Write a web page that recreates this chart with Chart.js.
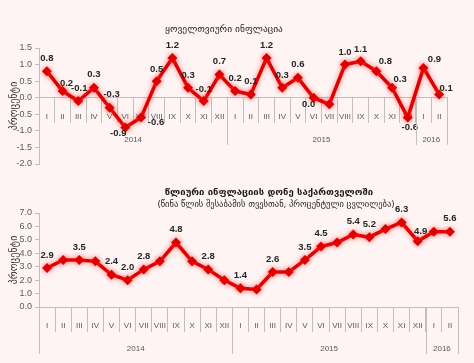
<!DOCTYPE html>
<html>
<head>
<meta charset="utf-8">
<script src="https://cdn.jsdelivr.net/npm/chart.js@4"></script>
<style>
  body { margin: 0; background: #fdf4f3; }
  .box { position: absolute; left: 0; width: 474px; }
</style>
</head>
<body>
<div class="box" style="top:0;height:182px"><canvas id="monthlyChart"></canvas></div>
<div class="box" style="top:182px;height:181px"><canvas id="annualChart"></canvas></div>
<script>
// data
const months = ["I", "II", "III", "IV", "V", "VI", "VII", "VIII", "IX", "X", "XI", "XII",
  "I", "II", "III", "IV", "V", "VI", "VII", "VIII", "IX", "X", "XI", "XII", "I", "II"];
const years = ["2014", "2015", "2016"];
const monthsPerYear = [12, 12, 2];
const monthlyInflation = [0.8, 0.2, -0.1, 0.3, -0.3, -0.9, -0.6, 0.5, 1.2, 0.3, -0.1, 0.7,
  0.2, 0.1, 1.2, 0.3, 0.6, 0.0, -0.2, 1.0, 1.1, 0.8, 0.3, -0.6, 0.9, 0.1];
const annualInflation = [2.9, 3.5, 3.5, 3.4, 2.4, 2.0, 2.8, 3.4, 4.8, 3.4, 2.8, 2.0,
  1.4, 1.3, 2.6, 2.6, 3.5, 4.5, 4.8, 5.4, 5.2, 5.8, 6.3, 4.9, 5.6, 5.6];
const monthlyTitle = "ყოველთვიური ინფლაცია";
const annualTitle = "წლიური ინფლაციის დონე საქართველოში";
const annualSubtitle = "(წინა წლის შესაბამის თვესთან, პროცენტული ცვლილება)";
const yTitle = "პროცენტი";

const RED = "rgb(222,0,0)";
const GRID = "#bfbfbf";
const TICK = "#595959";
const GEO = "'DejaVu Sans'";
const NUM = "'Liberation Sans'";

// glow round the line and markers
const glow = {
  id: "glow",
  beforeDatasetsDraw(chart) {
    const ctx = chart.ctx;
    ctx.save();
    ctx.shadowColor = "rgba(255,70,70,0.7)";
    ctx.shadowBlur = 5;
  },
  afterDatasetsDraw(chart) {
    chart.ctx.restore();
  },
};

// value labels next to points, offsets per point (null = no label)
const valueLabels = {
  id: "valueLabels",
  afterDatasetsDraw(chart, args, opts) {
    const ctx = chart.ctx;
    const meta = chart.getDatasetMeta(0);
    const data = chart.data.datasets[0].data;
    ctx.save();
    ctx.font = "bold 9.5px " + NUM;
    ctx.fillStyle = "#262626";
    ctx.textAlign = "center";
    ctx.textBaseline = "middle";
    meta.data.forEach((pt, i) => {
      const off = opts.offsets[i];
      if (!off) return;
      ctx.fillText(data[i].toFixed(1), pt.x + off[0], pt.y + off[1]);
    });
    ctx.restore();
  },
};

// second row of the category axis: years with long separators
const yearRow = {
  id: "yearRow",
  afterDraw(chart) {
    const ctx = chart.ctx;
    const x = chart.scales.x;
    const zero = chart.scales.y.getPixelForValue(chart.scales.y.min < 0 ? 0 : chart.scales.y.min);
    const half = (x.getPixelForValue(1) - x.getPixelForValue(0)) / 2;
    ctx.save();
    ctx.strokeStyle = GRID;
    ctx.lineWidth = 1;
    ctx.fillStyle = TICK;
    ctx.font = "8px " + NUM;
    ctx.textAlign = "center";
    ctx.textBaseline = "middle";
    let start = 0;
    years.forEach((yr, k) => {
      const end = start + monthsPerYear[k] - 1;
      const left = x.getPixelForValue(start) - half;
      const right = x.getPixelForValue(end) + half;
      [left, right].forEach((px) => {
        const p = Math.round(px) + 0.5;
        ctx.beginPath();
        ctx.moveTo(p, zero);
        ctx.lineTo(p, zero + 47);
        ctx.stroke();
      });
      ctx.fillText(yr, (left + right) / 2, zero + 42);
      start = end + 1;
    });
    ctx.restore();
  },
};

const titles = {
  id: "titles",
  afterDraw(chart, args, opts) {
    const ctx = chart.ctx;
    ctx.save();
    ctx.fillStyle = "#1a1a1a";
    ctx.textAlign = "center";
    ctx.textBaseline = "middle";
    opts.lines.forEach((l) => {
      ctx.font = l.font;
      ctx.fillText(l.text, l.x, l.y);
    });
    ctx.restore();
  },
};

const lineDataset = (values) => ({
  data: values,
  borderColor: RED,
  backgroundColor: RED,
  borderWidth: 3.5,
  pointStyle: "rectRot",
  pointRadius: 5,
  pointBorderWidth: 0,
  tension: 0,
});

const yScale = (min, max, step) => ({
  min: min,
  max: max,
  afterFit: (s) => { s.width = 39; },
  ticks: {
    stepSize: step,
    autoSkip: false,
    color: TICK,
    font: { family: NUM, size: 9 },
    padding: 3,
    callback: (v) => v.toFixed(1),
  },
  grid: { drawOnChartArea: false, tickLength: 4, color: GRID },
  border: { color: GRID },
  title: {
    display: true,
    text: yTitle,
    color: "#333",
    font: { family: GEO, size: 10 },
    padding: { top: 8, bottom: 0 },
  },
});

const xScale = (position) => ({
  type: "category",
  position: position,
  offset: true,
  afterFit: (s) => { if (position === "bottom") s.height = 56; },
  ticks: {
    color: TICK,
    font: { family: NUM, size: 8 },
    padding: -11,
    maxRotation: 0,
    autoSkip: false,
  },
  grid: { offset: true, drawOnChartArea: false, tickLength: 25, color: GRID },
  border: { color: GRID },
});

new Chart(document.getElementById("monthlyChart"), {
  type: "line",
  data: { labels: months, datasets: [lineDataset(monthlyInflation)] },
  options: {
    responsive: true,
    maintainAspectRatio: false,
    animation: false,
    layout: { padding: { top: 48, right: 27, bottom: 18, left: 0 } },
    scales: {
      x: xScale({ y: 0 }),
      y: yScale(-2, 1.5, 0.5),
    },
    plugins: {
      legend: { display: false },
      tooltip: { enabled: false },
      valueLabels: {
        offsets: [[0, -13], [4, -8], [1, -13], [0, -13], [2, -13], [-7, 6], [15, 5], [0, -12],
          [0, -13], [0, -12], [0, -12], [0, -13], [0, -13], [0, -13], [0, -13], [0, -12],
          [0, -13], [-5, 7], null, [0, -12], [0, -12], [9, -10], [8, -8], [2, 10], [11, -9], [7, -6]],
      },
      titles: { lines: [{ text: monthlyTitle, x: 224, y: 30, font: "9.5px " + GEO }] },
    },
  },
  plugins: [glow, valueLabels, yearRow, titles],
});

new Chart(document.getElementById("annualChart"), {
  type: "line",
  data: { labels: months, datasets: [lineDataset(annualInflation)] },
  options: {
    responsive: true,
    maintainAspectRatio: false,
    animation: false,
    layout: { padding: { top: 31, right: 16, bottom: 0, left: 0 } },
    scales: {
      x: xScale("bottom"),
      y: yScale(0, 7, 1),
    },
    plugins: {
      legend: { display: false },
      tooltip: { enabled: false },
      valueLabels: {
        offsets: [[0, -13], null, [0, -13], null, [0, -13], [0, -13], [0, -13], null,
          [0, -13], null, [0, -13], null, [0, -13], null, [0, -13], null,
          [0, -13], [0, -13], null, [0, -13], [0, -13], null, [0, -13], [3, -10], null, [0, -13]],
      },
      titles: {
        lines: [
          { text: annualTitle, x: 269, y: 11, font: "bold 9.5px " + GEO },
          { text: annualSubtitle, x: 276, y: 23, font: "8.5px " + GEO },
        ],
      },
    },
  },
  plugins: [glow, valueLabels, yearRow, titles],
});
</script>
</body>
</html>
